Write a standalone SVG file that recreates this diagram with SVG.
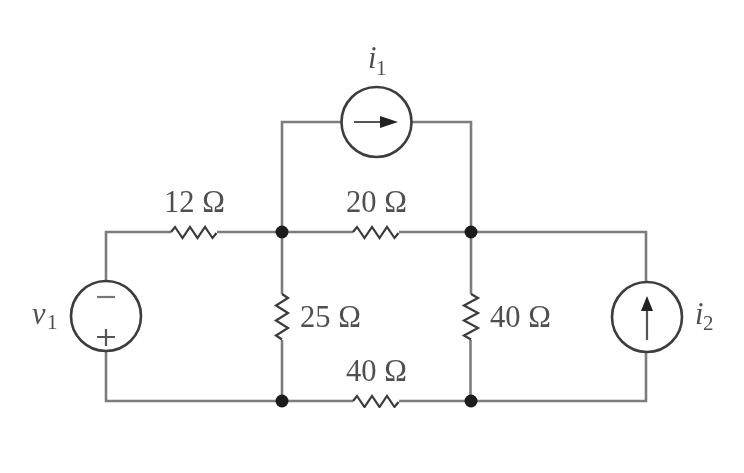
<svg xmlns="http://www.w3.org/2000/svg" width="744" height="473" viewBox="0 0 744 473">
<style>
.w{fill:none;stroke:#7d7d7d;stroke-width:2.6;stroke-linejoin:miter}
.r{fill:none;stroke:#3a3a3a;stroke-width:2.2;stroke-linejoin:miter}
.c{fill:#fff;stroke:#3c3c3c;stroke-width:2.6}
.d{fill:#1c1c1c}
.a{fill:none;stroke:#555;stroke-width:2.2}
.m{fill:none;stroke:#777;stroke-width:2.2}
.h{fill:#222}
text{font-family:"Liberation Serif","Times New Roman",serif;font-size:30.500px;fill:#505050}
.i{font-style:italic}
.s{font-size:21px}
</style>
<defs><filter id="soft" x="0" y="0" width="100%" height="100%"><feGaussianBlur stdDeviation="0.5"/></filter></defs>
<rect width="744" height="473" fill="#fff"/>
<g filter="url(#soft)">
<g id="connectors">
<path class="w" d="M106 281V232H171M217 232H353M399 232H646V281M646 352V401H399M353 401H106V352"/>
<path class="w" d="M342 122H282V294M282 340V401M411 122H471V294M470.500 340V401"/>
<path class="r" d="M171 232l4-5 7.500 11 7.500-11 7.500 11 7.500-11 7.500 11 4-5"/>
<path class="r" d="M353 232l4-5 7.500 11 7.500-11 7.500 11 7.500-11 7.500 11 4-5"/>
<path class="r" d="M353 401l4-5 7.500 11 7.500-11 7.500 11 7.500-11 7.500 11 4-5"/>
<path class="r" d="M282 294l6 4-12 7.500 12 7.500-12 7.500 12 7.500-12 7.500 6 4"/>
<path class="r" d="M471 294l7 4-14 7.500 14 7.500-14 7.500 14 7.500-14 7.500 7 4"/>
</g>
<g id="v1"><circle class="c" cx="106" cy="316" r="35"/><path class="m" d="M97 297H115"/><path class="a" d="M97 337H115M106 329V346"/><text class="i" x="32" y="324">v</text><text class="s" x="47" y="329">1</text></g>
<g id="i1"><circle class="c" cx="376.500" cy="122" r="35"/><path class="a" d="M354 122H390"/><path class="h" d="M380 116L398 122L380 128Z"/><text class="i" x="368" y="68">i</text><text class="s" x="376" y="75">1</text></g>
<g id="i2"><circle class="c" cx="647" cy="317" r="35"/><path class="a" d="M647 340V304"/><path class="h" d="M641 311L647 296L653 311Z"/><text class="i" x="695" y="324">i</text><text class="s" x="703" y="330">2</text></g>
<g id="n1"><circle class="d" cx="282" cy="232" r="6.500"/></g>
<g id="n2"><circle class="d" cx="471" cy="232" r="6.500"/></g>
<g id="n3"><circle class="d" cx="282" cy="401" r="6.500"/></g>
<g id="n4"><circle class="d" cx="471" cy="401" r="6.500"/></g>
<g id="r12"><text x="164" y="212">12 Ω</text></g>
<g id="r20"><text x="346" y="212">20 Ω</text></g>
<g id="r25"><text x="300" y="327">25 Ω</text></g>
<g id="r40a"><text x="490" y="327">40 Ω</text></g>
<g id="r40b"><text x="346" y="381">40 Ω</text></g>
</g>
</svg>
